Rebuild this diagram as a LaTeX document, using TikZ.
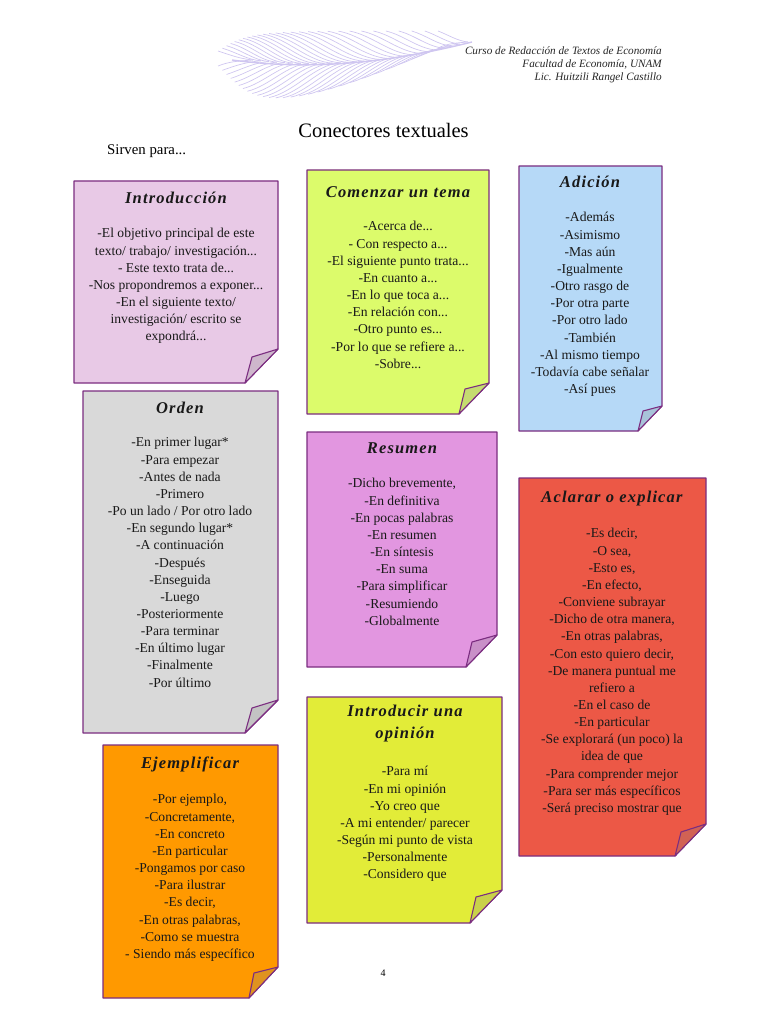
\documentclass[tikz,border=0pt]{standalone}
\usepackage{fontspec}
\setmainfont{Liberation Serif}
\newfontfamily\handfont[LetterSpace=7]{Liberation Serif}
\definecolor{noteedge}{HTML}{7B2D80}
\definecolor{featherc}{HTML}{CFC6F0}
\definecolor{introc}{HTML}{E8C9E6}
\definecolor{temac}{HTML}{DCFB6B}
\definecolor{adicionc}{HTML}{B6D9F7}
\definecolor{ordenc}{HTML}{D9D9D9}
\definecolor{resumenc}{HTML}{E296E0}
\definecolor{aclararc}{HTML}{EC5846}
\definecolor{opinionc}{HTML}{E2EC38}
\definecolor{ejemploc}{HTML}{FF9900}
\tikzset{
  notehead/.style={font=\handfont\bfseries\itshape\fontsize{16.5}{22}\selectfont,align=center,text=black!90},
  notebody/.style={font=\fontsize{13.6}{17.15}\selectfont,align=center,anchor=north,text=black!90},
  credit/.style={font=\fontsize{11.2}{14}\selectfont\itshape,anchor=east,inner sep=0pt,text=black!85},
}
\begin{document}
\begin{tikzpicture}[x=1pt,y=-1pt]
  \useasboundingbox (0,0) rectangle (768,1024);
  % feather
  \foreach \i in {0,...,27} {
    \pgfmathsetmacro{\t}{\i/27}
    \pgfmathsetmacro{\sx}{468-\t*215}
    \pgfmathsetmacro{\sy}{42+60*\t-42*\t*\t}
    \pgfmathsetmacro{\up}{31+20*\t*\t*\t*\t}
    \pgfmathsetmacro{\dn}{\sy+6+30*sin(180*\t)}
    \pgfmathsetmacro{\len}{30+50*sin(180*\t)-15*\t+20*\t*\t*\t*\t}
    \draw[featherc,line width=.7pt] (\sx,\sy) .. controls (\sx-.35*\len,\sy-1) and (\sx-.65*\len,\up+4) .. (\sx-\len,\up);
    \draw[featherc,line width=.7pt] (\sx,\sy) .. controls (\sx-.35*\len,\sy+1) and (\sx-.65*\len,\dn-5) .. (\sx-\len,\dn);
  }
  \draw[featherc,line width=1.4pt] (232,60) .. controls (320,72) and (400,60) .. (472,42);
  % header
  \node[credit] (curso) at (662,51) {Curso de Redacción de Textos de Economía};
  \node[credit] (facultad) at (662,64) {Facultad de Economía, UNAM};
  \node[credit] (lic) at (662,78) {Lic. Huitzili Rangel Castillo};
  \node[font=\fontsize{20.5}{24}\selectfont] (titulo) at (383.5,130) {Conectores textuales};
  \node[font=\fontsize{14.8}{17}\selectfont,anchor=west,inner sep=0pt] (sirven) at (107,151) {Sirven para...};
  \node[font=\fontsize{10}{12}\selectfont] (pagina) at (383,973) {4};
  % sticky notes: left/top/right/bottom, fold corner, colour
  \foreach \xa/\ya/\xb/\yb/\yf/\xf/\xi/\yi/\col in {
    74/181/278/383/349/245/252/357/introc,
    307/170/489/414/383/459/465/389/temac,
    519/166/662/431/406/638/643/411/adicionc,
    83/391/278/733/700/245/252/708/ordenc,
    307/432/497/667/635/466/472/642/resumenc,
    519/478/706/856/824/675/681/832/aclararc,
    307/697/502/923/890/470/476/897/opinionc,
    103/745/278/998/967/249/254/973/ejemploc} {
    \draw[noteedge,fill=\col,line width=1.1pt,line join=round]
      (\xa,\ya) -- (\xb,\ya) -- (\xb,\yf) -- (\xf,\yb) -- (\xa,\yb) -- cycle;
    \draw[noteedge,fill=\col!75!gray,line width=1.1pt,line join=round]
      (\xb,\yf) -- (\xi,\yi) -- (\xf,\yb) -- cycle;
  }
  % headings
  \node[notehead] (intro) at (176,198) {Introducción};
  \node[notehead] (tema) at (398,192) {Comenzar un tema};
  \node[notehead] (adicion) at (590,182) {Adición};
  \node[notehead] (orden) at (180,408) {Orden};
  \node[notehead] (resumen) at (402,448) {Resumen};
  \node[notehead] (aclarar) at (612,499) {Aclarar o explicar};
  \node[notehead] (opinion) at (405,724) {Introducir una\\opinión};
  \node[notehead] (ejemplo) at (190,764) {Ejemplificar};
  % lists
  \node[notebody] at (176,225) {-El objetivo principal de este\\texto/ trabajo/ investigación...\\- Este texto trata de...\\-Nos propondremos a exponer...\\-En el siguiente texto/\\investigación/ escrito se\\expondrá...};
  \node[notebody] at (398,218) {-Acerca de...\\- Con respecto a...\\-El siguiente punto trata...\\-En cuanto a...\\-En lo que toca a...\\-En relación con...\\-Otro punto es...\\-Por lo que se refiere a...\\-Sobre...};
  \node[notebody] at (590,209) {-Además\\-Asimismo\\-Mas aún\\-Igualmente\\-Otro rasgo de\\-Por otra parte\\-Por otro lado\\-También\\-Al mismo tiempo\\-Todavía cabe señalar\\-Así pues};
  \node[notebody] at (180,434) {-En primer lugar*\\-Para empezar\\-Antes de nada\\-Primero\\-Po un lado / Por otro lado\\-En segundo lugar*\\-A continuación\\-Después\\-Enseguida\\-Luego\\-Posteriormente\\-Para terminar\\-En último lugar\\-Finalmente\\-Por último};
  \node[notebody] at (402,475) {-Dicho brevemente,\\-En definitiva\\-En pocas palabras\\-En resumen\\-En síntesis\\-En suma\\-Para simplificar\\-Resumiendo\\-Globalmente};
  \node[notebody] at (612,525) {-Es decir,\\-O sea,\\-Esto es,\\-En efecto,\\-Conviene subrayar\\-Dicho de otra manera,\\-En otras palabras,\\-Con esto quiero decir,\\-De manera puntual me\\refiero a\\-En el caso de\\-En particular\\-Se explorará (un poco) la\\idea de que\\-Para comprender mejor\\-Para ser más específicos\\-Será preciso mostrar que};
  \node[notebody] at (405,763) {-Para mí\\-En mi opinión\\-Yo creo que\\-A mi entender/ parecer\\-Según mi punto de vista\\-Personalmente\\-Considero que};
  \node[notebody] at (190,791) {-Por ejemplo,\\-Concretamente,\\-En concreto\\-En particular\\-Pongamos por caso\\-Para ilustrar\\-Es decir,\\-En otras palabras,\\-Como se muestra\\- Siendo más específico};
\end{tikzpicture}
\end{document}
